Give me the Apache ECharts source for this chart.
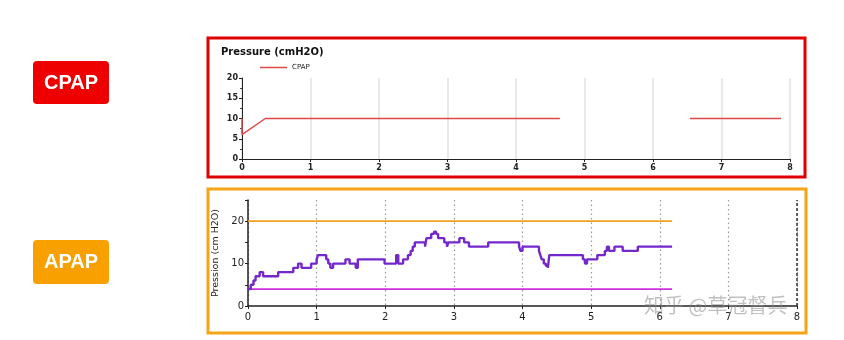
<!DOCTYPE html>
<html><head><meta charset="utf-8">
<script src="https://cdn.jsdelivr.net/npm/echarts@6/dist/echarts.min.js"></script>
<style>html,body{margin:0;padding:0;background:#fff}#c{width:844px;height:340px}</style>
</head><body><div id="c"></div>
<script>
// CPAP panel
const cpapSeg1X = [0, 0, 0.34, 4.64];
const cpapSeg1Y = [10, 6, 10, 10];
const cpapSeg2X = [6.54, 7.87];
const cpapSeg2Y = [10, 10];
const cpapYTicks = [0, 5, 10, 15, 20];
const xTicks = [0, 1, 2, 3, 4, 5, 6, 7, 8];
// APAP panel (step values: value holds from x onward)
const apapX = [0.00,0.04,0.08,0.11,0.17,0.22,0.44,0.66,0.73,0.78,0.92,1.00,1.02,1.14,1.17,1.20,1.24,1.42,1.48,1.57,1.60,1.99,2.16,2.19,2.26,2.33,2.37,2.40,2.43,2.58,2.60,2.67,2.71,2.74,2.77,2.86,2.90,2.92,3.08,3.15,3.22,3.50,3.95,3.97,4.00,4.24,4.26,4.28,4.31,4.34,4.37,4.39,4.88,4.91,4.94,5.09,5.20,5.23,5.26,5.34,5.46,5.68,6.18];
const apapY = [4,5,6,7,8,7,8,9,10,9,10,11,12,11,10,9,10,11,10,9,11,10,12,10,11,12,13,14,15,14,16,17,17.5,17,16,15,14,15,16,15,14,15,14,13,14,13,12,11,10,9.5,9,12,11,10,11,12,13,14,13,14,13,14,14];
const apapMaxX = [0, 6.18];
const apapMaxY = [20, 20];
const apapMinX = [0, 6.18];
const apapMinY = [4, 4];
const apapYLabels = [0, 10, 20];

const zip = (xs, ys) => xs.map((x, i) => [x, ys[i]]);
const F = 'DejaVu Sans, Verdana, sans-serif';

const chart = echarts.init(document.getElementById('c'), null, {renderer: 'canvas'});
chart.setOption({
  animation: false,
  backgroundColor: '#fff',
  title: {text: 'Pressure (cmH2O)', left: 216, top: 42,
    textStyle: {fontFamily: F, fontSize: 10, fontWeight: 'bold', color: '#111'}},
  legend: {data: [{name: 'CPAP', icon: 'rect'}], left: 255, top: 59, itemWidth: 27, itemHeight: 1.5, itemGap: 4,
    textStyle: {fontFamily: F, fontSize: 7, color: '#222'}},
  grid: [
    {left: 242, right: 54, top: 78, height: 81},
    {left: 248, right: 47, top: 200, height: 106}
  ],
  xAxis: [
    {gridIndex: 0, type: 'value', min: 0, max: 8, interval: 1,
     axisLine: {show: true, onZero: false, lineStyle: {color: '#222', width: 1}},
     axisTick: {show: true, length: 3, lineStyle: {color: '#222'}},
     axisLabel: {fontFamily: F, fontSize: 8, fontWeight: 'bold', color: '#222', margin: 5},
     splitLine: {show: true, lineStyle: {color: '#e2e2e2', width: 1.5}}},
    {gridIndex: 1, type: 'value', min: 0, max: 8, interval: 1,
     axisLine: {show: true, onZero: false, lineStyle: {color: '#222', width: 1.5}},
     axisTick: {show: true, length: 3, inside: false, lineStyle: {color: '#222'}},
     axisLabel: {fontFamily: F, fontSize: 10, color: '#222', margin: 6},
     splitLine: {show: true, lineStyle: {color: '#999', width: 1.2, type: [1.5, 3]}}}
  ],
  yAxis: [
    {gridIndex: 0, type: 'value', min: 0, max: 20, interval: 5,
     axisLine: {show: true, lineStyle: {color: '#222', width: 1}},
     axisTick: {show: true, length: 3, lineStyle: {color: '#222'}},
     minorTick: {show: true, splitNumber: 2, length: 2, lineStyle: {color: '#444'}},
     axisLabel: {fontFamily: F, fontSize: 8, fontWeight: 'bold', color: '#222', margin: 4},
     splitLine: {show: false}},
    {gridIndex: 1, type: 'value', min: 0, max: 25, interval: 5,
     name: 'Pression (cm H2O)', nameLocation: 'middle', nameGap: 23,
     nameTextStyle: {fontFamily: F, fontSize: 9.5, color: '#222'},
     axisLine: {show: true, lineStyle: {color: '#222', width: 1.5}},
     axisTick: {show: true, length: 3, lineStyle: {color: '#222'}},
     axisLabel: {fontFamily: F, fontSize: 10, color: '#222', margin: 4,
       formatter: v => apapYLabels.includes(v) ? String(v) : ''},
     splitLine: {show: false}}
  ],
  series: [
    {name: 'CPAP', type: 'line', xAxisIndex: 0, yAxisIndex: 0, data: zip(cpapSeg1X, cpapSeg1Y),
     symbol: 'none', lineStyle: {color: '#e04848', width: 1.5}, itemStyle: {color: '#e04848'}},
    {name: 'CPAP', type: 'line', xAxisIndex: 0, yAxisIndex: 0, data: zip(cpapSeg2X, cpapSeg2Y),
     symbol: 'none', lineStyle: {color: '#e04848', width: 1.5}, itemStyle: {color: '#e04848'}},
    {name: 'max', type: 'line', xAxisIndex: 1, yAxisIndex: 1, data: zip(apapMaxX, apapMaxY),
     symbol: 'none', lineStyle: {color: '#f0a020', width: 1.8},
     markLine: {silent: true, symbol: 'none', label: {show: false},
       lineStyle: {color: '#333', width: 1.5, type: [3, 2]}, data: [{xAxis: 8}]}},
    {name: 'min', type: 'line', xAxisIndex: 1, yAxisIndex: 1, data: zip(apapMinX, apapMinY),
     symbol: 'none', lineStyle: {color: '#cc30dd', width: 1.8}},
    {name: 'APAP', type: 'line', xAxisIndex: 1, yAxisIndex: 1, step: 'end', data: zip(apapX, apapY),
     symbol: 'none', lineStyle: {color: '#7428cc', width: 2.4}}
  ],
  graphic: [
    {type: 'rect', shape: {x: 208, y: 38, width: 597, height: 139},
     style: {fill: 'none', stroke: '#e00000', lineWidth: 3}, z: 10},
    {type: 'rect', shape: {x: 208, y: 189, width: 598, height: 144},
     style: {fill: 'none', stroke: '#f5a414', lineWidth: 3}, z: 10},
    {type: 'rect', shape: {x: 33, y: 61, width: 76, height: 43, r: 4},
     style: {fill: '#ee0000'}},
    {type: 'text', x: 71, y: 83, style: {text: 'CPAP', fill: '#fff', font: 'bold 20px Liberation Sans, Arial, sans-serif',
     textAlign: 'center', textVerticalAlign: 'middle'}},
    {type: 'rect', shape: {x: 33, y: 240, width: 76, height: 44, r: 4},
     style: {fill: '#f7a000'}},
    {type: 'text', x: 71, y: 262, style: {text: 'APAP', fill: '#fff', font: 'bold 20px Liberation Sans, Arial, sans-serif',
     textAlign: 'center', textVerticalAlign: 'middle'}},
    {type: 'text', x: 644, y: 305, z: 20, style: {text: '知乎 @草冠督兵', fill: 'rgba(140,140,140,0.55)',
     font: '20px Noto Sans CJK SC, sans-serif', textVerticalAlign: 'middle'}}
  ]
});
</script></body></html>
